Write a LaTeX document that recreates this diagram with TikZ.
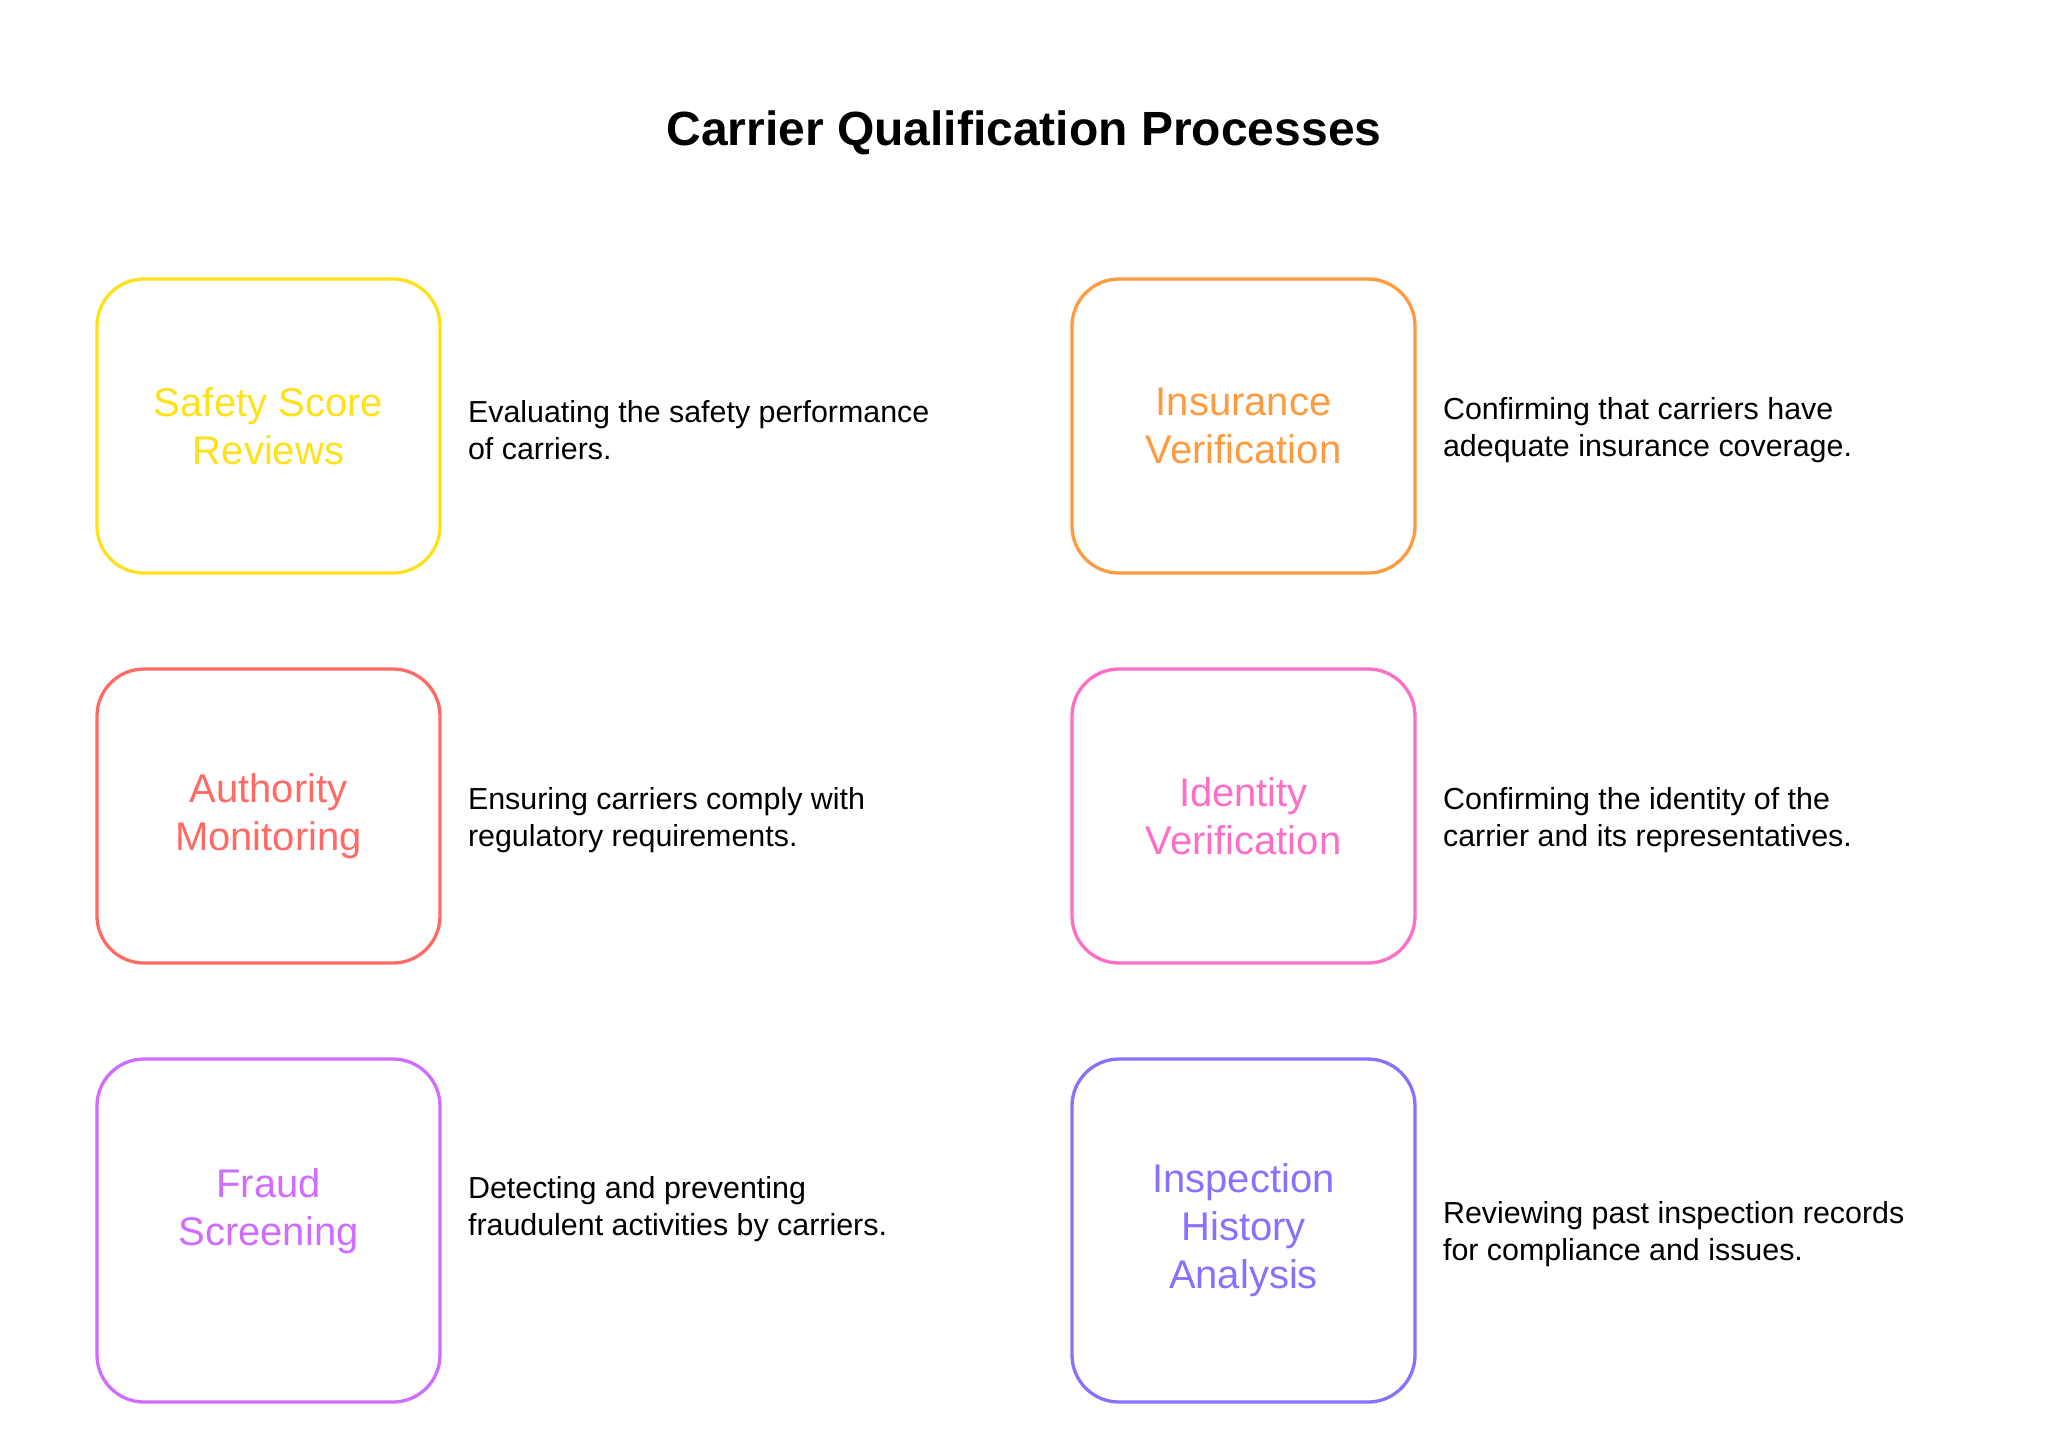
\documentclass[tikz,border=0pt]{standalone}
\usepackage{fontspec}
\setmainfont{Liberation Sans}
\usepackage{tikz}
\usetikzlibrary{positioning}
\definecolor{cqyellow}{HTML}{FFE11A}
\definecolor{cqorange}{HTML}{FF9B3E}
\definecolor{cqcoral}{HTML}{FF6A65}
\definecolor{cqpink}{HTML}{FF6DC6}
\definecolor{cqviolet}{HTML}{D06CFF}
\definecolor{cqindigo}{HTML}{8672FF}

\begin{document}
\begin{tikzpicture}[
  x=0.5pt, y=-0.5pt,
  node distance=13pt,
  procbox/.style={rectangle, rounded corners=23.5pt, draw=#1, line width=1.65pt,
    text=#1, minimum width=171.5pt, minimum height=147pt, align=center,
    font=\fontsize{20}{24}\selectfont},
  tallbox/.style={procbox=#1, minimum height=171.5pt},
  desc/.style={inner sep=0pt, align=left, yshift=-2pt, font=\fontsize{15.2}{18.5}\selectfont}
]
\useasboundingbox (0,0) rectangle (2048,1448);
\node[anchor=base, font=\bfseries\fontsize{24}{28}\selectfont] (title) at (1024,145) {Carrier Qualification Processes};

\node[procbox=cqyellow] (safety) at (268.5,426) {Safety Score\\Reviews};
\node[procbox=cqorange] (insurance) at (1243.5,426) {Insurance\\Verification};
\node[procbox=cqcoral] (authority) at (268.5,816) {Authority\\Monitoring};
\node[procbox=cqpink] (identity) at (1243.5,816) {Identity\\Verification};
\node[tallbox=cqviolet] (fraud) at (268.5,1230.5) {Fraud\\Screening\\\mbox{}};
\node[tallbox=cqindigo] (inspection) at (1243.5,1230.5) {Inspection\\History\\Analysis};

\node[desc, right=of safety] (safetytxt) {Evaluating the safety performance\\of carriers.};
\node[desc, right=of insurance] (insurancetxt) {Confirming that carriers have\\adequate insurance coverage.};
\node[desc, right=of authority] (authoritytxt) {Ensuring carriers comply with\\regulatory requirements.};
\node[desc, right=of identity] (identitytxt) {Confirming the identity of the\\carrier and its representatives.};
\node[desc, right=of fraud, yshift=12.5pt] (fraudtxt) {Detecting and preventing\\fraudulent activities by carriers.};
\node[desc, right=of inspection] (inspectiontxt) {Reviewing past inspection records\\for compliance and issues.};
\end{tikzpicture}
\end{document}
